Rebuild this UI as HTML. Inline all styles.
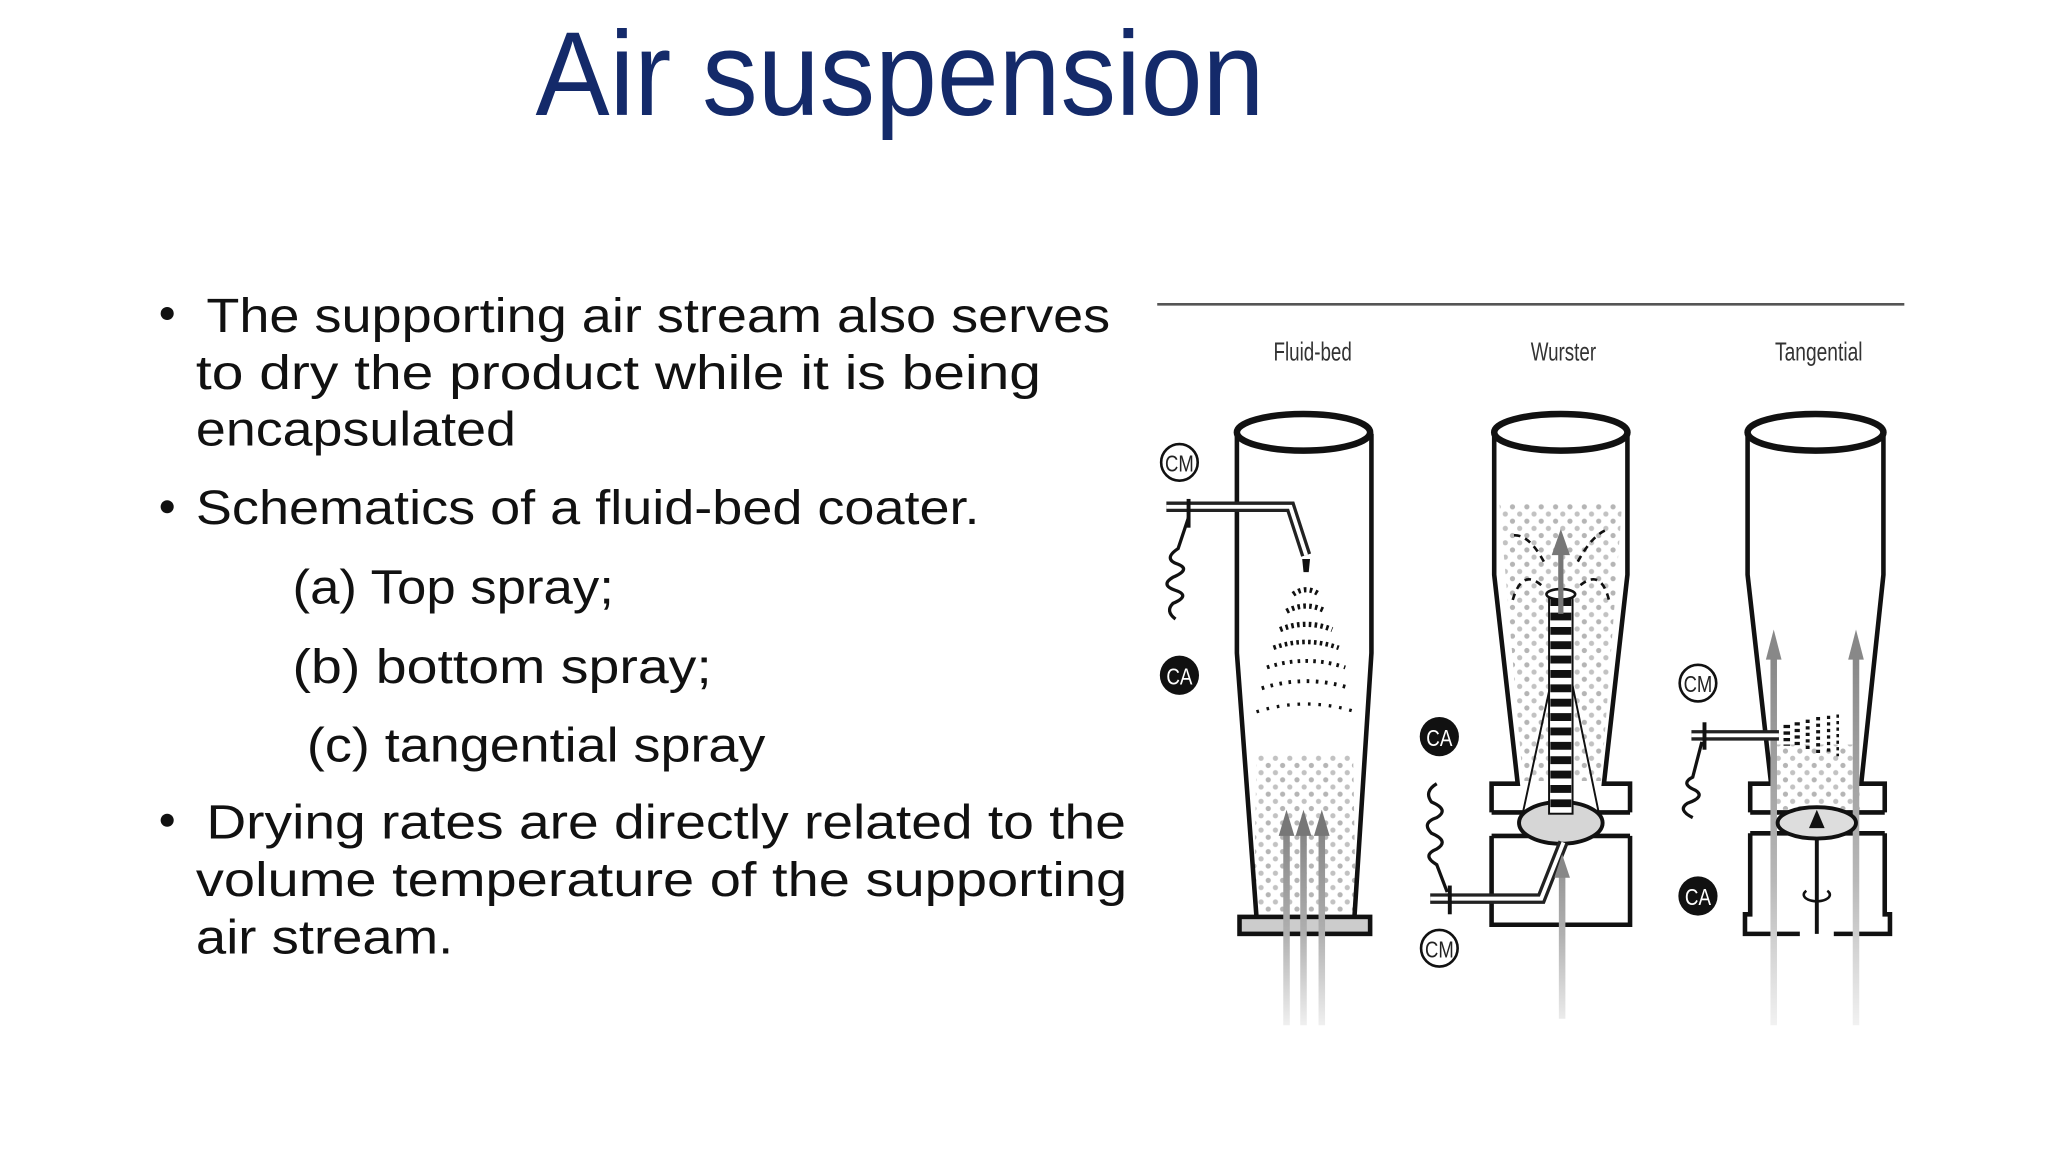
<!DOCTYPE html>
<html><head><meta charset="utf-8"><style>
html,body{margin:0;padding:0;background:#fff;}
svg{display:block;}
text{font-family:"Liberation Sans",sans-serif;}
</style></head><body>
<svg width="2048" height="1152" viewBox="0 0 1568 882" xmlns="http://www.w3.org/2000/svg">
<defs>
<pattern id="dots" width="11" height="11" patternUnits="userSpaceOnUse">
<circle cx="3" cy="3" r="2" fill="#b5b5b5"/><circle cx="8.5" cy="8.5" r="2" fill="#c2c2c2"/>
</pattern>
<linearGradient id="air" gradientUnits="userSpaceOnUse" x1="0" y1="790" x2="0" y2="640">
<stop offset="0" stop-color="#f4f4f4"/><stop offset="0.5" stop-color="#b0b0b0"/><stop offset="1" stop-color="#888"/>
</linearGradient>
<linearGradient id="air3" gradientUnits="userSpaceOnUse" x1="0" y1="790" x2="0" y2="500">
<stop offset="0" stop-color="#f4f4f4"/><stop offset="0.4" stop-color="#b8b8b8"/><stop offset="1" stop-color="#888"/>
</linearGradient>
</defs>
<rect width="1568" height="882" fill="#fff"/>
<text x="410" y="88" font-size="92" fill="#142a6a" textLength="558" lengthAdjust="spacingAndGlyphs">Air suspension</text>

<g font-size="37" fill="#111">
<circle cx="128" cy="240" r="5" fill="#111"/>
<circle cx="128" cy="388" r="5" fill="#111"/>
<circle cx="128" cy="628" r="5" fill="#111"/>
<text x="158" y="254" textLength="692" lengthAdjust="spacingAndGlyphs">The supporting air stream also serves</text>
<text x="150" y="298" textLength="647" lengthAdjust="spacingAndGlyphs">to dry the product while it  is being</text>
<text x="150" y="341" textLength="245" lengthAdjust="spacingAndGlyphs">encapsulated</text>
<text x="150" y="401" textLength="600" lengthAdjust="spacingAndGlyphs">Schematics of a fluid-bed coater.</text>
<text x="224" y="462" textLength="246" lengthAdjust="spacingAndGlyphs">(a) Top spray;</text>
<text x="224" y="523" textLength="321" lengthAdjust="spacingAndGlyphs">(b) bottom spray;</text>
<text x="235" y="583" textLength="351" lengthAdjust="spacingAndGlyphs">(c) tangential spray</text>
<text x="158" y="642" textLength="704" lengthAdjust="spacingAndGlyphs">Drying rates are directly related to the</text>
<text x="150" y="686" textLength="713" lengthAdjust="spacingAndGlyphs">volume temperature of the supporting</text>
<text x="150" y="730" textLength="197" lengthAdjust="spacingAndGlyphs">air stream.</text>
</g>

<!-- diagram -->
<line x1="886" y1="233" x2="1458" y2="233" stroke="#555" stroke-width="2"/>
<g font-size="20" fill="#333">
<text x="975" y="276" textLength="60" lengthAdjust="spacingAndGlyphs">Fluid-bed</text>
<text x="1172" y="276" textLength="50" lengthAdjust="spacingAndGlyphs">Wurster</text>
<text x="1359" y="276" textLength="67" lengthAdjust="spacingAndGlyphs">Tangential</text>
</g>

<g fill="none" stroke="#111" stroke-width="3.5">
<path d="M962,578 L1036,578 L1038,698 L960,698 Z" fill="url(#dots)" stroke="none"/>
<path d="M947,332 L947,500 L962,702 M1050,332 L1050,500 L1037,702"/>
<ellipse cx="998" cy="331" rx="51" ry="14" fill="#fff" stroke-width="5"/>
<rect x="949" y="702" width="100" height="13" fill="#ccc"/>
<path d="M1148,385 L1242,385 L1226,598 L1166,598 Z" fill="url(#dots)" stroke="none"/>
<path d="M1144,332 L1144,440 L1162,600 L1142,600 L1142,622 M1246,332 L1246,440 L1228,600 L1248,600 L1248,622 M1142,622 L1248,622 M1142,640 L1248,640 M1142,640 L1142,692 L1142,708 L1248,708 L1248,692 L1248,640"/>
<ellipse cx="1195" cy="331" rx="51" ry="14" fill="#fff" stroke-width="5"/>
<path d="M1360,570 L1420,570 L1425,620 L1356,620 Z" fill="url(#dots)" stroke="none"/>
<path d="M1338,332 L1338,440 L1356,600 L1340,600 L1340,622 M1442,332 L1442,440 L1425,600 L1443,600 L1443,622 M1340,622 L1443,622 M1340,638 L1443,638 M1340,638 L1340,700 L1336,700 L1336,715 L1378,715 M1443,638 L1443,700 L1447,700 L1447,715 L1404,715"/>
<ellipse cx="1390" cy="331" rx="52" ry="14" fill="#fff" stroke-width="5"/>
</g>

<g fill="none" stroke="#111" stroke-dasharray="2 2.5">
<path d="M990,455 Q1000,448 1010,455" stroke-width="4"/>
<path d="M985,468 Q1000,460 1015,468" stroke-width="4"/>
<path d="M980,482 Q1000,474 1020,482" stroke-width="4"/>
<path d="M975,496 Q1000,487 1025,496" stroke-width="3.5"/>
<path d="M970,511 Q1000,501 1030,511" stroke-width="3" stroke-dasharray="2 4"/>
<path d="M966,527 Q1000,516 1034,527" stroke-width="3" stroke-dasharray="2 5"/>
<path d="M962,545 Q1000,533 1038,545" stroke-width="2.5" stroke-dasharray="2 6"/>
</g>
<path d="M997,428 L1003,428 L1002,438 L998,438 Z" fill="#111"/>
<path d="M893,388 L988,388 L1000,425" fill="none" stroke="#222" stroke-width="8"/>
<path d="M893,388 L988,388 L1000,425" fill="none" stroke="#fff" stroke-width="3"/>
<line x1="910" y1="382" x2="910" y2="404" stroke="#111" stroke-width="3"/>
<path d="M910,396 L902,420 Q890,428 902,432 Q912,436 898,442 Q888,448 900,452 Q912,456 898,462 Q892,468 900,474" fill="none" stroke="#111" stroke-width="2.5"/>
<g stroke="url(#air)" stroke-width="5" fill="none">
<line x1="985" y1="785" x2="985" y2="635"/><line x1="998" y1="785" x2="998" y2="635"/><line x1="1012" y1="785" x2="1012" y2="635"/>
</g>
<g fill="#777"><path d="M979,640 L985,620 L991,640 Z"/><path d="M992,640 L998,620 L1004,640 Z"/><path d="M1006,640 L1012,620 L1018,640 Z"/></g>

<ellipse cx="1195" cy="630" rx="32" ry="16" fill="#d6d6d6" stroke="#111" stroke-width="3"/>
<path d="M1166,622 L1188,520 M1224,622 L1203,520" stroke="#111" stroke-width="1.5"/>
<rect x="1186" y="455" width="18" height="168" fill="#fff" stroke="#111" stroke-width="1.5"/>
<line x1="1195" y1="458" x2="1195" y2="622" stroke="#111" stroke-width="16" stroke-dasharray="6 5"/>
<ellipse cx="1195" cy="455" rx="11" ry="4" fill="#fff" stroke="#111" stroke-width="2"/>
<line x1="1195" y1="470" x2="1195" y2="420" stroke="#777" stroke-width="4"/>
<path d="M1188,425 L1195,405 L1202,425 Z" fill="#777"/>
<g fill="none" stroke="#111" stroke-width="2" stroke-dasharray="5 4">
<path d="M1182,430 Q1170,408 1158,410"/><path d="M1208,430 Q1220,408 1232,405"/>
<path d="M1180,448 Q1165,435 1158,460"/><path d="M1210,448 Q1226,435 1232,460"/>
</g>
<path d="M1095,688 L1180,688 L1197,645" fill="none" stroke="#222" stroke-width="8"/>
<path d="M1095,688 L1180,688 L1197,645" fill="none" stroke="#fff" stroke-width="3"/>
<line x1="1110" y1="678" x2="1110" y2="700" stroke="#111" stroke-width="3"/>
<path d="M1108,683 L1100,662 Q1088,655 1100,650 Q1110,644 1096,638 Q1088,630 1100,626 Q1110,620 1096,614 Q1090,606 1100,600" fill="none" stroke="#111" stroke-width="2.5"/>
<line x1="1196" y1="780" x2="1196" y2="670" stroke="url(#air)" stroke-width="5"/>
<path d="M1190,672 L1196,654 L1202,672 Z" fill="#888"/>

<g stroke="url(#air3)" stroke-width="5"><line x1="1358" y1="785" x2="1358" y2="500"/><line x1="1421" y1="785" x2="1421" y2="500"/></g>
<path d="M1352,505 L1358,482 L1364,505 Z" fill="#888"/><path d="M1415,505 L1421,482 L1427,505 Z" fill="#888"/>
<ellipse cx="1391" cy="630" rx="30" ry="12" fill="#ddd" stroke="#111" stroke-width="3"/>
<path d="M1385,634 L1391,620 L1397,634 Z" fill="#111"/>
<line x1="1391" y1="642" x2="1391" y2="715" stroke="#111" stroke-width="3"/>
<path d="M1383,682 A10,5 0 1 0 1399,682" fill="none" stroke="#111" stroke-width="2"/>
<path d="M1295,563 L1362,563" stroke="#222" stroke-width="8"/>
<path d="M1295,563 L1362,563" stroke="#fff" stroke-width="3"/>
<line x1="1305" y1="553" x2="1305" y2="574" stroke="#111" stroke-width="3"/>
<g stroke="#111" stroke-width="3" stroke-dasharray="2.5 2.5">
<line x1="1368" y1="555" x2="1368" y2="571" stroke-width="5"/>
<line x1="1376" y1="553" x2="1376" y2="573" stroke-width="4"/>
<line x1="1384" y1="551" x2="1384" y2="575"/>
<line x1="1392" y1="549" x2="1392" y2="577"/>
<line x1="1400" y1="548" x2="1400" y2="578" stroke-width="2.5"/>
<line x1="1407" y1="547" x2="1407" y2="579" stroke-width="2"/>
</g>
<path d="M1303,568 L1296,595 Q1286,600 1298,605 Q1306,610 1292,615 Q1284,620 1296,626" fill="none" stroke="#111" stroke-width="2.5"/>

<g font-size="18" text-anchor="middle">
<circle cx="903" cy="354" r="14" fill="#fff" stroke="#111" stroke-width="2"/><text x="903" y="361" fill="#222" textLength="22" lengthAdjust="spacingAndGlyphs">CM</text>
<circle cx="903" cy="517" r="15" fill="#111"/><text x="903" y="524" fill="#fff" textLength="20" lengthAdjust="spacingAndGlyphs">CA</text>
<circle cx="1102" cy="564" r="15" fill="#111"/><text x="1102" y="571" fill="#fff" textLength="20" lengthAdjust="spacingAndGlyphs">CA</text>
<circle cx="1102" cy="726" r="14" fill="#fff" stroke="#111" stroke-width="2"/><text x="1102" y="733" fill="#222" textLength="22" lengthAdjust="spacingAndGlyphs">CM</text>
<circle cx="1300" cy="523" r="14" fill="#fff" stroke="#111" stroke-width="2"/><text x="1300" y="530" fill="#222" textLength="22" lengthAdjust="spacingAndGlyphs">CM</text>
<circle cx="1300" cy="686" r="15" fill="#111"/><text x="1300" y="693" fill="#fff" textLength="20" lengthAdjust="spacingAndGlyphs">CA</text>
</g>
</svg>
</body></html>
